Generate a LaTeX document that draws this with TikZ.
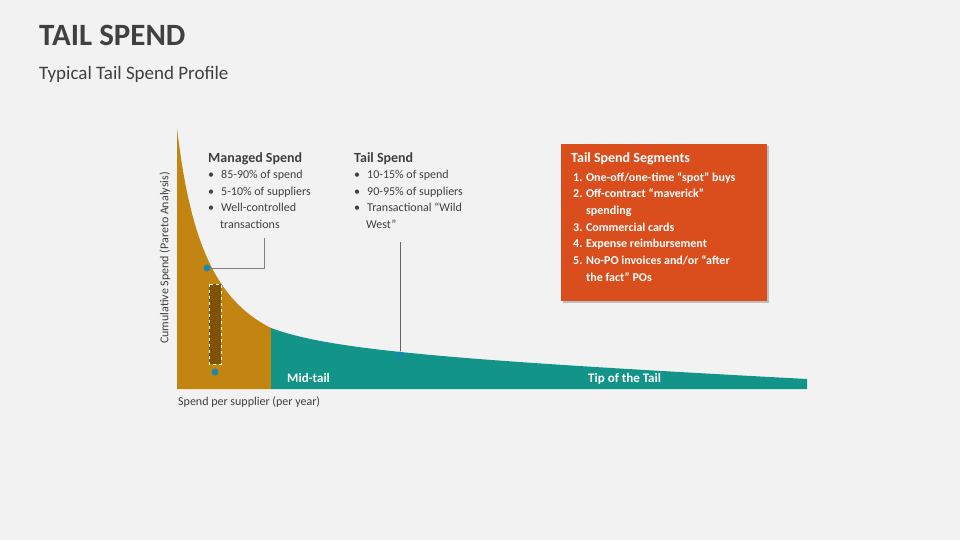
\documentclass[tikz,border=0pt]{standalone}
\usepackage{fontspec}
\setmainfont{Carlito}
\definecolor{bg}{HTML}{F2F2F2}
\definecolor{gold}{HTML}{C38511}
\definecolor{teal}{HTML}{139488}
\definecolor{brn}{HTML}{7F5207}
\definecolor{dotc}{HTML}{1A87B3}
\definecolor{orng}{HTML}{DA4D1D}
\definecolor{txt}{HTML}{404040}
\begin{document}
\begin{tikzpicture}[x=1pt,y=-1pt,
  hd/.style={anchor=north west,font=\fontsize{14}{16}\selectfont\bfseries,text=txt,inner sep=0},
  bl/.style={anchor=north west,font=\fontsize{12}{16.5}\selectfont,text=txt,inner sep=0,align=left},
  dot/.style={circle,fill=dotc,inner sep=0,minimum size=7pt}]
\fill[bg] (0,0) rectangle (960,540);
\useasboundingbox (0,0) rectangle (960,540);
\node[anchor=west,font=\fontsize{31}{34}\selectfont\bfseries,text=txt,inner sep=0] (title) at (39,35) {TAIL SPEND};
\node[anchor=west,font=\fontsize{19}{22}\selectfont,text=txt,inner sep=0] (sub) at (39,74) {Typical Tail Spend Profile};
\fill[gold] (177,389) -- (177,128) .. controls (190,240) and (215,300) .. (271,328) -- (271,389) -- cycle;
\fill[teal] (271,389) -- (271,328) .. controls (330,350) and (450,360) .. (807,379) -- (807,389) -- cycle;
\draw[fill=brn,draw=white,dashed,line width=0.6pt] (209,284) rectangle (221,364);
\node[dot] (d1) at (207,268) {};
\node[dot] (d2) at (215,372) {};
\node[dot] (d3) at (400,355) {};
\coordinate (c1) at (264,238);
\coordinate (c2) at (400,242);
\draw[gray,line width=0.8pt] (d1) -- (264,268) -- (c1);
\draw[gray!80!black,line width=0.8pt] (d3) -- (c2);
\node[anchor=west,font=\fontsize{13}{15}\selectfont\bfseries,text=white,inner sep=0] (mt) at (287,378) {Mid-tail};
\node[anchor=west,font=\fontsize{13}{15}\selectfont\bfseries,text=white,inner sep=0] (tt) at (588,379) {Tip of the Tail};
\node[rotate=90,font=\fontsize{12}{14}\selectfont,text=txt,inner sep=0] (ya) at (165,258) {Cumulative Spend (Pareto Analysis)};
\node[anchor=west,font=\fontsize{12}{14}\selectfont,text=txt,inner sep=0] (xa) at (178,402) {Spend per supplier (per year)};
\node[hd] (h1) at (208,152) {Managed Spend};
\node[bl] (b1) at (208,170) {•\hspace{7pt}85-90\% of spend\\•\hspace{7pt}5-10\% of suppliers\\•\hspace{7pt}Well-controlled\\\hspace{12pt}transactions};
\node[hd] (h2) at (354,152) {Tail Spend};
\node[bl] (b2) at (354,170) {•\hspace{7pt}10-15\% of spend\\•\hspace{7pt}90-95\% of suppliers\\•\hspace{7pt}Transactional “Wild\\\hspace{12pt}West”};
\fill[black!25] (563,146) rectangle (769,303);
\fill[orng] (561,144) rectangle (767,301);
\node[anchor=north west,font=\fontsize{14}{16}\selectfont\bfseries,text=white,inner sep=0] (oh) at (571,152) {Tail Spend Segments};
\node[anchor=north west,font=\fontsize{12}{16.7}\selectfont\bfseries,text=white,inner sep=0,align=left] (ol) at (573,172) {1. One-off/one-time “spot” buys\\2. Off-contract “maverick”\\\hspace{13pt}spending\\3. Commercial cards\\4. Expense reimbursement\\5. No-PO invoices and/or “after\\\hspace{13pt}the fact” POs};
\end{tikzpicture}
\end{document}
